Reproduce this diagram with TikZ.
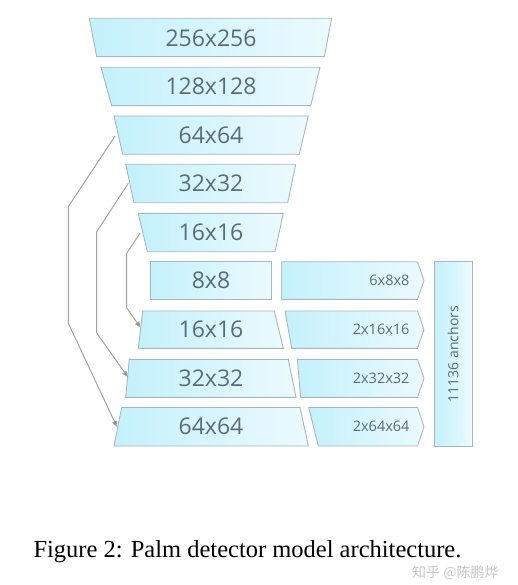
\documentclass[tikz,border=0pt]{standalone}
\usepackage{fontspec}
\setmainfont{Liberation Serif}
\newfontfamily\labelfont{Open Sans}
\newfontfamily\cjkfont{Noto Sans CJK SC}
\usetikzlibrary{arrows.meta}
\definecolor{blkcyan}{HTML}{C4F1FC}
\definecolor{blkwhite}{HTML}{EBFAFE}
\definecolor{blkline}{HTML}{A7B8BD}
\definecolor{blktext}{HTML}{5B6B77}
\definecolor{skipline}{HTML}{A2A2A2}

\begin{document}
\begin{tikzpicture}[x=1pt,y=-1pt,
  blk/.style={draw=blkline,line width=.9pt,left color=blkcyan,right color=blkwhite},
  big/.style={font=\labelfont\fontsize{23}{23}\selectfont,text=blktext},
  small/.style={font=\labelfont\fontsize{14.5}{14.5}\selectfont,text=blktext,anchor=east},
  skip/.style={draw=skipline,line width=1pt,-{Triangle[length=6pt,width=5pt,fill=gray]}}]
\useasboundingbox (0,0) rectangle (517,585);
% encoder
\path[blk] (89.3,18.3)--(331.7,18.3)--(324.3,56.7)--(96.7,56.7)--cycle;
\path[blk] (101,67.3)--(320,67.3)--(310.7,105.7)--(111.7,105.7)--cycle;
\path[blk] (114,116)--(308.3,116)--(299.3,154.3)--(122.7,154.3)--cycle;
\path[blk] (125.7,164.3)--(295.7,164.3)--(287.7,202.7)--(134,202.7)--cycle;
\path[blk] (138.3,213.3)--(283.3,213.3)--(275,251.7)--(147.3,251.7)--cycle;
\path[blk] (150,261.7) rectangle (271.7,299.3);
% decoder
\path[blk] (142.7,311)--(274.3,311)--(283.3,348.3)--(138.3,348.3)--cycle;
\path[blk] (129.3,359.3)--(288.3,359.3)--(296,397.3)--(125.7,397.3)--cycle;
\path[blk] (121.7,407.3)--(300,407.3)--(308.3,446)--(114,446)--cycle;
% outputs
\path[blk] (281.7,261.7)--(417.5,261.7)--(424,280.5)--(417.5,299.3)--(281.7,299.3)--cycle;
\path[blk] (285,311)--(417.5,311)--(424,329.7)--(417.5,348.3)--(291.7,348.3)--cycle;
\path[blk] (297.3,359.3)--(417.5,359.3)--(424,378.3)--(417.5,397.3)--(300.7,397.3)--cycle;
\path[blk] (308.7,407.3)--(417.5,407.3)--(424,426.7)--(417.5,446)--(318.3,446)--cycle;
\path[blk] (434,261.7) rectangle (472.3,446);

\node[big] (e256) at (211,38) {256x256};
\node[big] (e128) at (211,86.5) {128x128};
\node[big] (e64) at (211,135) {64x64};
\node[big] (e32) at (211,183.5) {32x32};
\node[big] (e16) at (211,232.5) {16x16};
\node[big] (e8) at (211,280.5) {8x8};
\node[big] (d16) at (211,329.7) {16x16};
\node[big] (d32) at (211,378.3) {32x32};
\node[big] (d64) at (211,426.7) {64x64};
\node[small] (o8) at (413,280.5) {6x8x8};
\node[small] (o16) at (413,329.7) {2x16x16};
\node[small] (o32) at (413,378.3) {2x32x32};
\node[small] (o64) at (413,426.7) {2x64x64};
\node[font=\labelfont\fontsize{14}{14}\selectfont,text=blktext,rotate=90] (anc) at (453,354) {11136 anchors};

% skip connections
\coordinate (e64w) at (115,136);
\coordinate (e32w) at (128.3,183.3);
\coordinate (e16w) at (140,233.3);
\coordinate (d64w) at (117,427);
\coordinate (d32w) at (127.8,377);
\coordinate (d16w) at (140.5,327.5);
\draw[skip] (e64w)--(68.3,206.7)--(68.3,323.3)--(d64w);
\draw[skip] (e32w)--(96.7,231.7)--(96.7,333)--(d32w);
\draw[skip] (e16w)--(126.7,253.3)--(126.7,308)--(d16w);

\node[anchor=base west,inner sep=0,font=\fontsize{24.5}{24.5}\selectfont] (cap) at (33.3,557.7) {Figure 2: Palm detector model architecture.};
\node[anchor=north west,inner sep=0,font=\cjkfont\fontsize{14}{14}\selectfont,text=gray!45] (mark) at (412,565) {知乎 @陈鹏烨};
\end{tikzpicture}
\end{document}
